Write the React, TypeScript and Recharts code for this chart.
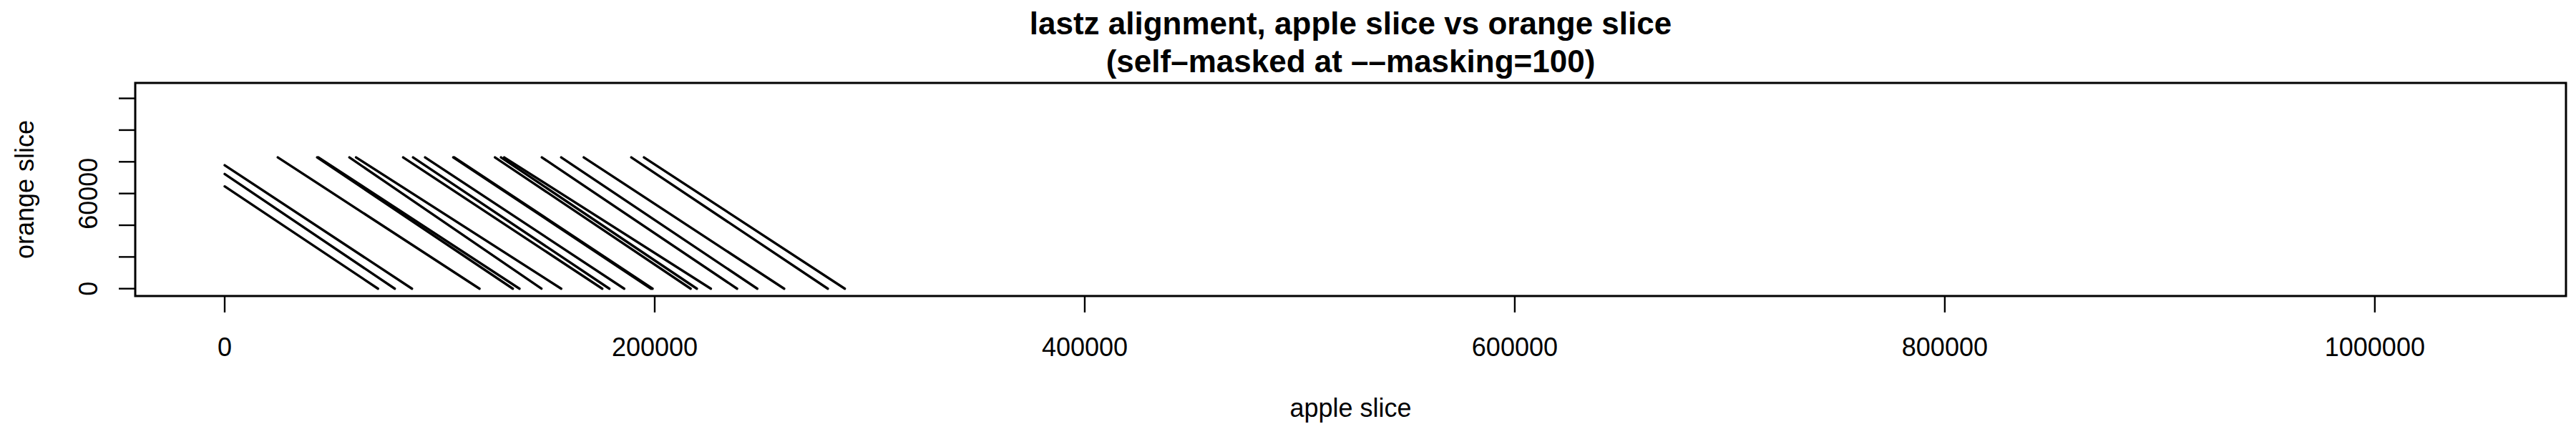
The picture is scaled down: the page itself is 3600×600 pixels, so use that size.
// lastz dot plot: apple slice vs orange slice, drawn as alignment segments
import { ScatterChart, Scatter, XAxis, YAxis, ReferenceArea } from "recharts";

const FONT = "'Liberation Sans', Arial, Helvetica, sans-serif";

// alignment segments: start (apple, orange) -> end (apple, orange)
const startApple = [0, 0, 0, 24700, 43000, 43600, 58000, 61100, 83000, 87600, 93200, 106300, 106800, 125700, 128500, 130000, 147500, 156500, 167000, 189100, 195000];
const startOrange = [64500, 72300, 77850, 82800, 82800, 82800, 82800, 82800, 82800, 82800, 82800, 82800, 82800, 82800, 82800, 82800, 82800, 82800, 82800, 82800, 82800];
const endApple = [71300, 79100, 87100, 118500, 134000, 137100, 147300, 156500, 175600, 178900, 185800, 198300, 199000, 216700, 219600, 226100, 238300, 247700, 260200, 280500, 288400];
const endOrange = [0, 0, 0, 0, 0, 0, 0, 0, 0, 0, 0, 0, 0, 0, 0, 0, 0, 0, 0, 0, 0];

const xTicks = [0, 200000, 400000, 600000, 800000, 1000000];
const yTicks = [0, 20000, 40000, 60000, 80000, 100000, 120000];
const yTickLabels = [0, 60000];

const xDomain = [-41600, 1088900];
const yDomain = [-4635, 129735];

const segments = startApple.map((sx, i) => [
  { x: sx, y: startOrange[i] },
  { x: endApple[i], y: endOrange[i] },
]);

const YTick = (props: any) => {
  const { x, y, payload } = props;
  if (!yTickLabels.includes(payload.value)) return <g />;
  return (
    <text x={x} y={y} transform={`rotate(-90, ${x}, ${y})`} textAnchor="middle" fontSize={36} fontFamily={FONT} fill="#000">
      {payload.value}
    </text>
  );
};

const noDot = () => <g />;

export default function App() {
  return (
    <div style={{ position: "absolute", left: 0, top: 0, width: 3600, height: 600, background: "#fff" }}>
      <ScatterChart width={3600} height={600} margin={{ top: 116, right: 14, bottom: 0, left: 0 }}>
        <XAxis
          type="number"
          dataKey="x"
          domain={xDomain}
          allowDataOverflow
          ticks={xTicks}
          interval={0}
          axisLine={false}
          tickLine={{ stroke: "#000", strokeWidth: 2.4 }}
          tickSize={23}
          tickMargin={35}
          height={186}
          tick={{ fontSize: 36, fill: "#000", fontFamily: FONT }}
        />
        <YAxis
          type="number"
          dataKey="y"
          domain={yDomain}
          allowDataOverflow
          ticks={yTicks}
          interval={0}
          axisLine={false}
          tickLine={{ stroke: "#000", strokeWidth: 2.4 }}
          tickSize={23}
          tickMargin={30}
          width={189}
          tick={YTick}
        />
        <ReferenceArea
          x1={xDomain[0]}
          x2={xDomain[1]}
          y1={yDomain[0]}
          y2={yDomain[1]}
          fill="none"
          stroke="#000"
          strokeWidth={3}
          ifOverflow="visible"
        />
        {segments.map((seg, i) => (
          <Scatter
            key={i}
            data={seg}
            fill="#000"
            stroke="#000"
            strokeWidth={3.4}
            line={{ stroke: "#000", strokeWidth: 3.4, strokeLinecap: "round" }}
            lineType="joint"
            shape={noDot}
            isAnimationActive={false}
          />
        ))}
      </ScatterChart>
      <svg width={3600} height={600} style={{ position: "absolute", left: 0, top: 0, pointerEvents: "none" }}>
        <text x={1887.5} y={48} textAnchor="middle" fontSize={44} fontWeight="bold" fontFamily={FONT} fill="#000">
          lastz alignment, apple slice vs orange slice
        </text>
        <text x={1887.5} y={101} textAnchor="middle" fontSize={44} fontWeight="bold" fontFamily={FONT} fill="#000">
          (self–masked at ––masking=100)
        </text>
        <text x={1887.5} y={583} textAnchor="middle" fontSize={36} fontFamily={FONT} fill="#000">
          apple slice
        </text>
        <text x={47} y={265} transform="rotate(-90, 47, 265)" textAnchor="middle" fontSize={36} fontFamily={FONT} fill="#000">
          orange slice
        </text>
      </svg>
    </div>
  );
}
